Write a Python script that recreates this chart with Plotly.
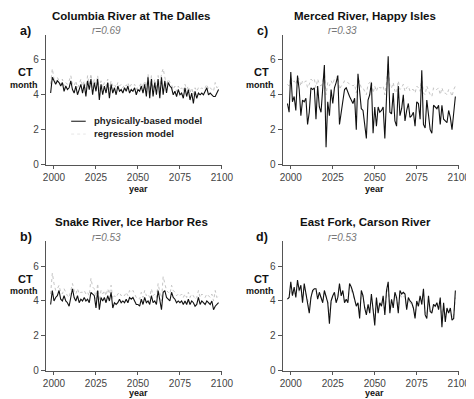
import plotly.graph_objects as go

W, H = 474, 399

years = list(range(1998, 2099))

# Columbia River at The Dalles
phys_a = [4.1, 5.0, 4.8, 4.6, 4.8, 4.7, 4.5, 4.7, 4.2, 4.5,
          4.3, 4.4, 4.8, 4.3, 4.1, 4.5, 4.0, 4.3, 4.6, 4.1,
          4.6, 3.9, 4.8, 4.3, 4.9, 4.0, 4.7, 4.2, 4.9, 3.7,
          4.6, 4.0, 4.5, 4.1, 4.7, 3.8, 4.6, 4.1, 4.4, 4.0,
          4.5, 4.2, 4.3, 4.1, 4.4, 4.2, 4.5, 4.1, 4.3, 4.2,
          4.4, 4.0, 4.3, 4.2, 4.5, 4.1, 4.6, 3.9, 5.0, 3.8,
          4.9, 3.9, 4.7, 4.0, 4.9, 3.8, 5.0, 4.0, 4.8, 4.1,
          4.7, 4.5, 4.4, 4.0, 4.2, 3.9, 4.3, 4.0, 4.1, 3.8,
          4.4, 3.9, 4.3, 3.7, 4.1, 3.5, 4.2, 3.8, 4.1, 4.0,
          4.1, 4.0, 4.2, 4.4, 4.0, 4.1, 4.0, 3.9, 3.9, 4.1,
          4.3]
reg_a = [4.6, 5.5, 4.9, 4.7, 5.0, 4.8, 4.6, 4.9, 4.5, 4.7,
         4.6, 4.8, 5.1, 4.6, 4.5, 4.8, 4.4, 4.6, 4.9, 4.5,
         4.8, 4.3, 5.1, 4.6, 5.2, 4.4, 4.9, 4.6, 5.1, 4.2,
         4.8, 4.4, 4.7, 4.5, 4.9, 4.3, 4.8, 4.5, 4.6, 4.4,
         4.7, 4.5, 4.6, 4.4, 4.6, 4.5, 4.7, 4.4, 4.6, 4.5,
         4.6, 4.3, 4.5, 4.5, 4.7, 4.4, 4.8, 4.3, 5.2, 4.2,
         5.1, 4.3, 4.9, 4.4, 5.1, 4.2, 5.2, 5.5, 5.0, 4.5,
         4.9, 4.7, 4.6, 4.3, 4.5, 4.2, 4.5, 4.3, 4.4, 4.2,
         4.6, 4.3, 4.5, 4.1, 4.4, 4.0, 4.4, 4.2, 4.4, 4.3,
         4.4, 4.3, 4.4, 4.6, 4.3, 4.4, 4.3, 4.2, 4.7, 4.4,
         4.5]

# Snake River, Ice Harbor Res
phys_b = [3.8, 4.6, 4.0, 4.2, 4.3, 4.6, 4.1, 4.0, 4.3, 4.0,
          3.9, 3.7, 4.2, 4.7, 4.2, 4.0, 4.3, 3.9, 4.1, 4.0,
          4.2, 4.0, 4.1, 3.9, 4.5, 4.4, 4.3, 3.6, 4.6, 3.5,
          4.2, 4.0, 4.2, 3.9, 4.3, 4.0, 4.5, 3.6, 3.9, 3.8,
          3.9, 4.1, 3.9, 4.0, 3.9, 4.1, 3.9, 4.2, 4.1, 4.2,
          4.0, 3.8, 3.8, 3.7, 4.1, 3.8, 4.2, 3.9, 4.0, 3.8,
          4.3, 3.9, 4.0, 3.8, 4.6, 4.0, 3.5, 4.5, 4.6, 4.2,
          4.1, 4.0, 4.5, 4.2, 4.1, 3.9, 4.0, 3.9, 4.0, 3.8,
          4.0, 3.8, 4.1, 3.8, 4.0, 3.9, 3.7, 3.8, 4.2, 3.8,
          4.0, 3.9, 3.8, 4.0, 3.9, 3.8, 4.0, 3.5, 3.7, 3.8,
          3.9]
reg_b = [4.4, 5.6, 5.0, 4.6, 4.7, 4.9, 4.5, 4.4, 4.7, 4.5,
         4.3, 4.2, 4.6, 5.0, 4.6, 4.4, 4.7, 4.4, 4.5, 4.5,
         4.6, 4.4, 4.5, 4.3, 5.3, 4.8, 4.7, 4.1, 5.0, 4.0,
         4.6, 4.4, 4.6, 4.3, 4.7, 4.4, 4.9, 4.1, 4.3, 4.2,
         4.4, 4.5, 4.3, 4.4, 4.3, 4.5, 4.3, 4.6, 4.5, 4.6,
         4.4, 4.2, 4.2, 4.1, 4.5, 4.2, 4.6, 4.3, 4.4, 4.2,
         4.7, 4.3, 4.4, 4.2, 5.0, 4.4, 4.0, 5.4, 5.0, 4.6,
         4.5, 4.4, 4.9, 4.6, 4.5, 4.3, 4.4, 4.3, 4.4, 4.2,
         4.4, 4.2, 4.5, 4.2, 4.4, 4.3, 4.1, 4.2, 4.6, 4.2,
         4.4, 4.3, 4.2, 4.4, 4.3, 4.2, 4.4, 4.0, 4.6, 4.2,
         4.3]

# Merced River, Happy Isles
phys_c = [3.5, 3.0, 5.3, 3.6, 3.9, 3.1, 5.1, 4.3, 2.8, 3.7,
          3.6, 3.8, 2.3, 3.0, 4.4, 4.3, 4.4, 2.6, 4.5, 3.3,
          3.0, 4.4, 5.7, 1.0, 3.6, 2.8, 4.3, 3.5, 4.4, 4.7,
          5.1, 2.3, 3.0, 3.5, 4.3, 4.4, 4.1, 3.9, 3.7, 3.5,
          3.8, 2.0, 5.2, 4.0, 3.2, 3.1, 2.3, 1.5, 3.7, 4.0,
          4.7, 1.8, 3.3, 2.2, 3.3, 3.0, 3.1, 3.3, 1.5, 4.0,
          6.2, 3.0, 2.9, 4.1, 2.5, 2.2, 4.5, 2.8, 3.2, 4.0,
          2.5, 3.1, 3.5, 2.7, 2.8, 3.0, 2.2, 3.6, 3.5, 2.6,
          5.4, 2.3, 2.1, 3.7, 2.8, 2.0, 1.8, 3.4, 3.3, 3.2,
          3.4, 2.3, 3.4, 2.6, 2.5, 2.4, 3.1, 2.7, 2.0, 3.0,
          3.9]
reg_c = [4.6, 4.5, 5.0, 4.7, 4.8, 4.6, 5.0, 4.9, 4.5, 4.8,
         4.7, 4.8, 4.4, 4.6, 4.9, 4.8, 4.9, 4.4, 4.9, 4.6,
         4.5, 4.8, 5.3, 4.0, 4.7, 4.5, 4.8, 4.6, 4.9, 5.0,
         5.1, 4.3, 4.5, 4.6, 4.8, 4.8, 4.7, 4.6, 4.6, 4.5,
         4.6, 4.1, 5.0, 4.7, 4.4, 4.4, 4.2, 4.0, 4.6, 4.7,
         4.8, 4.1, 4.5, 4.2, 4.5, 4.4, 4.4, 4.5, 4.0, 4.7,
         5.8, 4.4, 4.4, 4.7, 4.2, 4.1, 4.8, 4.3, 4.4, 4.6,
         4.2, 4.4, 4.5, 4.2, 4.3, 4.3, 4.1, 4.5, 4.4, 4.2,
         5.0, 4.1, 4.0, 4.5, 4.2, 4.0, 3.9, 4.4, 4.3, 4.3,
         4.4, 4.0, 4.4, 4.1, 4.1, 4.0, 4.3, 4.2, 3.9, 4.3,
         4.5]

# East Fork, Carson River
phys_d = [4.1, 4.2, 5.1, 4.3, 4.8, 4.2, 5.2, 4.6, 4.9, 3.9,
          5.0, 4.4, 4.0, 3.3, 4.2, 4.6, 4.7, 4.7, 4.1, 4.5,
          4.2, 3.9, 4.6, 4.3, 3.9, 2.7, 4.0, 4.3, 4.5, 3.9,
          4.2, 5.0, 4.3, 4.6, 3.9, 4.1, 3.9, 5.0, 4.8, 4.5,
          4.0, 3.7, 3.9, 3.0, 4.6, 4.3, 3.6, 3.2, 3.8, 3.3,
          4.4, 3.5, 2.6, 4.2, 3.3, 3.9, 3.7, 4.3, 3.2, 4.6,
          5.1, 3.3, 4.1, 3.6, 4.5, 4.2, 3.3, 4.6, 4.4, 4.5,
          4.4, 3.5, 4.2, 4.0, 3.9, 3.6, 3.0, 4.0, 3.7, 4.3,
          3.8, 4.7, 3.2, 3.0, 4.3, 3.4, 3.3, 3.8, 3.7, 3.9,
          3.5, 4.2, 2.5, 3.9, 2.8, 3.6, 3.3, 3.6, 2.9, 3.0,
          4.6]
reg_d = [4.1, 4.2, 4.8, 4.3, 4.6, 4.3, 4.9, 4.5, 4.7, 4.0,
         4.7, 4.4, 4.1, 3.6, 4.2, 4.5, 4.6, 4.6, 4.2, 4.4,
         4.2, 4.0, 4.5, 4.3, 4.0, 3.2, 4.0, 4.3, 4.4, 4.0,
         4.2, 4.8, 4.3, 4.5, 4.0, 4.1, 4.0, 4.8, 4.6, 4.4,
         4.0, 3.8, 3.9, 3.3, 4.4, 4.2, 3.7, 3.4, 3.8, 3.5,
         4.2, 3.6, 3.0, 4.1, 3.5, 3.9, 3.7, 4.1, 3.4, 4.4,
         4.8, 3.5, 4.0, 3.7, 4.3, 4.1, 3.5, 4.4, 4.2, 4.3,
         4.2, 3.6, 4.1, 3.9, 3.8, 3.6, 3.2, 3.9, 3.7, 4.1,
         3.8, 4.4, 3.4, 3.2, 4.1, 3.5, 3.4, 3.7, 3.7, 3.8,
         3.5, 4.0, 2.9, 3.7, 3.1, 3.5, 3.3, 3.5, 3.0, 3.2,
         4.2]

titles = ["Columbia River at The Dalles", "Snake River, Ice Harbor Res",
          "Merced River, Happy Isles", "East Fork, Carson River"]
letters = ["a)", "b)", "c)", "d)"]
r_labels = ["r=0.69", "r=0.53", "r=0.33", "r=0.53"]
x_ticks = [2000, 2025, 2050, 2075, 2100]
y_ticks = [0, 2, 4, 6]
legend_names = ["physically-based model", "regression model"]

phys = [phys_a, phys_b, phys_c, phys_d]
regs = [reg_a, reg_b, reg_c, reg_d]

FONT = "Liberation Sans, Arial, sans-serif"
AX = "#555555"


def fx(px):
    return px / W


def fy(py):
    return 1 - py / H


# panel geometry in pixels: (left, right, top, bottom)
panels = [
    (36, 217.7, 27.3, 159.0),   # a
    (36, 217.7, 236.7, 368.3),  # b
    (280, 461.7, 27.3, 159.0),  # c
    (280, 461.7, 236.7, 368.3), # d
]

fig = go.Figure()
layout = dict(
    width=W, height=H, margin=dict(l=0, r=0, t=0, b=0),
    paper_bgcolor="white", plot_bgcolor="white", showlegend=False,
    font=dict(family=FONT, color="black"),
)
annotations = []
shapes = []

for i, (l, r, t, b) in enumerate(panels):
    n = "" if i == 0 else str(i + 1)
    xa, ya = "x" + n, "y" + n
    fig.add_trace(go.Scatter(x=years, y=regs[i], mode="lines", xaxis=xa, yaxis=ya,
                             line=dict(color="#c4c4c4", width=1, dash="dot"),
                             name=legend_names[1]))
    fig.add_trace(go.Scatter(x=years, y=phys[i], mode="lines", xaxis=xa, yaxis=ya,
                             line=dict(color="#111111", width=1.1),
                             name=legend_names[0]))
    layout["xaxis" + n] = dict(
        domain=[fx(l), fx(r)], anchor=ya, range=[1995.2, 2100.2],
        tickvals=x_ticks, ticks="outside", ticklen=3, tickwidth=1, tickcolor=AX,
        showline=True, linecolor=AX, linewidth=1.3, showgrid=False, zeroline=False,
        tickfont=dict(size=10, color="#444444", family=FONT),
    )
    layout["yaxis" + n] = dict(
        domain=[fy(b), fy(t)], anchor=xa, range=[0, 7.43],
        tickvals=y_ticks, ticks="outside", ticklen=4, tickwidth=1, tickcolor=AX,
        showline=True, linecolor=AX, linewidth=1.3, showgrid=False, zeroline=False,
        tickfont=dict(size=10, color="#444444", family=FONT),
    )
    cx = (l + r) / 2
    bottom_row = i in (1, 3)
    # title
    annotations.append(dict(text="<b>%s</b>" % titles[i], x=fx(cx - 3 + (0 if i < 2 else -3)),
                            y=fy(t - 19), xref="paper", yref="paper",
                            showarrow=False, xanchor="center", yanchor="middle",
                            font=dict(size=11.5, color="#111111")))
    # panel letter
    annotations.append(dict(text="<b>%s</b>" % letters[i], x=fx(l - 21), y=fy(t - 4),
                            xref="paper", yref="paper", showarrow=False,
                            xanchor="center", yanchor="middle",
                            font=dict(size=12.5, color="#111111")))
    # r value
    annotations.append(dict(text="<i>%s</i>" % r_labels[i], x=fx(l + 62), y=fy(t - 4),
                            xref="paper", yref="paper", showarrow=False,
                            xanchor="center", yanchor="middle",
                            font=dict(size=10, color="#777777")))
    # CT / month
    annotations.append(dict(text="<b>CT</b>", x=fx(l - 21.5), y=fy(t + 38),
                            xref="paper", yref="paper", showarrow=False,
                            xanchor="center", yanchor="middle",
                            font=dict(size=11, color="#111111")))
    annotations.append(dict(text="<b>month</b>", x=fx(l - 23), y=fy(t + 51),
                            xref="paper", yref="paper", showarrow=False,
                            xanchor="center", yanchor="middle",
                            font=dict(size=9, color="#111111")))
    # year
    annotations.append(dict(text="<b>year</b>", x=fx(l + 95),
                            y=fy(b + (22.8 if bottom_row else 25.0)),
                            xref="paper", yref="paper", showarrow=False,
                            xanchor="center", yanchor="middle",
                            font=dict(size=9, color="#111111")))

# legend in panel a
shapes.append(dict(type="line", xref="paper", yref="paper",
                   x0=fx(62), x1=fx(77), y0=fy(115), y1=fy(115),
                   line=dict(color="#333333", width=1.2)))
shapes.append(dict(type="line", xref="paper", yref="paper",
                   x0=fx(62), x1=fx(77), y0=fy(128), y1=fy(128),
                   line=dict(color="#e6e6e6", width=1, dash="dot")))
annotations.append(dict(text="<b>%s</b>" % legend_names[0], x=fx(83), y=fy(114.5),
                        xref="paper", yref="paper", showarrow=False,
                        xanchor="left", yanchor="middle",
                        font=dict(size=9.6, color="#222222")))
annotations.append(dict(text="<b>%s</b>" % legend_names[1], x=fx(83), y=fy(127.5),
                        xref="paper", yref="paper", showarrow=False,
                        xanchor="left", yanchor="middle",
                        font=dict(size=9.6, color="#222222")))

layout["annotations"] = annotations
layout["shapes"] = shapes
fig.update_layout(**layout)
fig.write_html("out.html")
